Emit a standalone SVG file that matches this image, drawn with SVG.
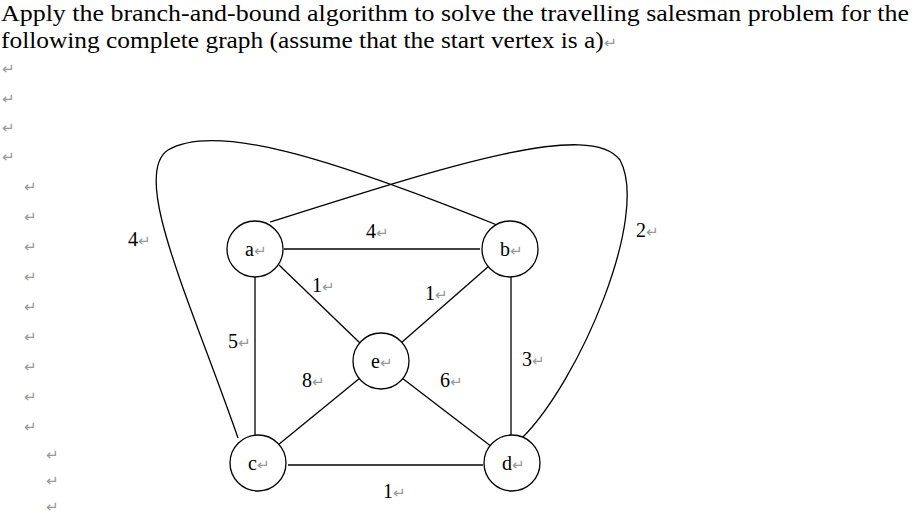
<svg xmlns="http://www.w3.org/2000/svg" width="917" height="525" viewBox="0 0 917 525">
<style>
text{font-family:"Liberation Serif",serif;font-size:20px;fill:#000}
.r{fill:#999;font-family:"DejaVu Sans",sans-serif;font-size:15px}
.n{fill:#fff;stroke:#000;stroke-width:1.3}
.e{stroke:#000;stroke-width:1.3;fill:none}
.t{font-size:24px}
</style>
<rect width="917" height="525" fill="#fff"/>
<text class="t" x="1" y="21" textLength="908" lengthAdjust="spacingAndGlyphs">Apply the branch-and-bound algorithm to solve the travelling salesman problem for the</text>
<text class="t" x="1" y="48" textLength="616" lengthAdjust="spacingAndGlyphs">following complete graph (assume that the start vertex is a)<tspan class="r">↵</tspan></text>
<g class="r">
<text class="r" x="2" y="74">↵</text><text class="r" x="2" y="104">↵</text><text class="r" x="2" y="133">↵</text><text class="r" x="2" y="162">↵</text>
<text class="r" x="24" y="192">↵</text><text class="r" x="24" y="222">↵</text><text class="r" x="24" y="252">↵</text><text class="r" x="24" y="282">↵</text><text class="r" x="24" y="312">↵</text><text class="r" x="24" y="342">↵</text><text class="r" x="24" y="372">↵</text><text class="r" x="24" y="402">↵</text><text class="r" x="24" y="432">↵</text>
<text class="r" x="46" y="460">↵</text><text class="r" x="46" y="486">↵</text><text class="r" x="46" y="512">↵</text>
</g>
<g id="connectors">
<line class="e" x1="284" y1="249" x2="480" y2="249"/>
<line class="e" x1="279" y1="265" x2="361" y2="344"/>
<line class="e" x1="489" y1="266" x2="401" y2="343"/>
<line class="e" x1="360" y1="378" x2="278" y2="445"/>
<line class="e" x1="402" y1="378" x2="492" y2="447"/>
<line class="e" x1="288" y1="465" x2="483" y2="465"/>
<line class="e" x1="255" y1="277" x2="255" y2="437"/>
<line class="e" x1="511" y1="277" x2="511" y2="437"/>
<path class="e" d="M238 438 C190 300,130 175,168 150 C215 122,330 158,497 225"/>
<path class="e" d="M270 222 C450 165,590 120,620 160 C650 215,580 380,522 438"/>
</g>
<g id="a"><circle class="n" cx="255" cy="249" r="28"/><text x="245" y="256">a<tspan class="r">↵</tspan></text></g>
<g id="b"><circle class="n" cx="510" cy="249" r="28"/><text x="500" y="256">b<tspan class="r">↵</tspan></text></g>
<g id="e"><circle class="n" cx="381" cy="361" r="28"/><text x="371" y="368">e<tspan class="r">↵</tspan></text></g>
<g id="c"><circle class="n" cx="258" cy="463" r="28"/><text x="248" y="470">c<tspan class="r">↵</tspan></text></g>
<g id="d"><circle class="n" cx="512" cy="463" r="28"/><text x="502" y="470">d<tspan class="r">↵</tspan></text></g>
<g id="labels">
<text x="128" y="246">4<tspan class="r">↵</tspan></text>
<text x="366" y="238">4<tspan class="r">↵</tspan></text>
<text x="636" y="237">2<tspan class="r">↵</tspan></text>
<text x="312" y="292">1<tspan class="r">↵</tspan></text>
<text x="425" y="300">1<tspan class="r">↵</tspan></text>
<text x="228" y="348">5<tspan class="r">↵</tspan></text>
<text x="522" y="366">3<tspan class="r">↵</tspan></text>
<text x="302" y="387">8<tspan class="r">↵</tspan></text>
<text x="440" y="387">6<tspan class="r">↵</tspan></text>
<text x="383" y="498">1<tspan class="r">↵</tspan></text>
</g>
</svg>
